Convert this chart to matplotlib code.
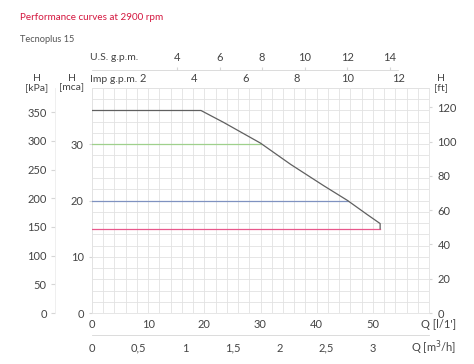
import matplotlib
matplotlib.use("Agg")
import matplotlib.pyplot as plt
import matplotlib.transforms as mtransforms
import numpy as np

plt.rcParams['font.family'] = ['Lato', 'DejaVu Sans']

# pump curve, Q in l/min, H in m
curve_q = [0, 19.4, 23.4, 30.0, 35.4, 41.3, 45.5, 49.0, 51.3, 51.3]
curve_h = [36.0, 36.0, 33.9, 30.2, 26.4, 22.6, 20.0, 17.5, 15.9, 15.0]

# horizontal setpoint lines: head, end flow, colour
level_h = [30, 20, 15]
level_q = [30.0, 45.5, 51.3]
level_c = ['#9fd08c', '#7f92c0', '#e8588c']

lpm_ticks = [0, 10, 20, 30, 40, 50]
m3h_ticks = [0, 0.5, 1, 1.5, 2, 2.5, 3]
m3h_labels = ['0', '0,5', '1', '1,5', '2', '2,5', '3']
usgpm_ticks = [4, 6, 8, 10, 12, 14]
impgpm_ticks = [2, 4, 6, 8, 10, 12]
mca_ticks = [0, 10, 20, 30]
kpa_ticks = [0, 50, 100, 150, 200, 250, 300, 350]
ft_ticks = [0, 20, 40, 60, 80, 100, 120]

W, H = 474, 364
TXT = '#444444'
LINE = '#d6d6d6'
FS = 8

fig = plt.figure(figsize=(W / 100, H / 100), dpi=100)

def fx(px):
    return px / W

def fy(py):
    return 1 - py / H

left, right, top, bottom = 92, 429, 88, 313
ax = fig.add_axes([fx(left), fy(bottom), fx(right - left), (bottom - top) / H])
ax.set_xlim(0, 60)
ax.set_ylim(0, 40)

ax.set_xticks(np.arange(0, 61, 2), minor=True)
ax.set_yticks(np.arange(0, 41, 2), minor=True)
ax.set_xticks(lpm_ticks)
ax.set_yticks(mca_ticks)
ax.grid(which='both', color='#e2e2e2', linewidth=0.6)
ax.set_axisbelow(True)
ax.tick_params(which='minor', length=0)
ax.tick_params(axis='x', which='major', length=0, pad=4, labelsize=FS, labelcolor=TXT)
ax.tick_params(axis='y', which='major', length=2, color=LINE, pad=4, labelsize=FS, labelcolor=TXT)
for s in ax.spines.values():
    s.set_color('#e2e2e2')
    s.set_linewidth(0.6)

ax.plot(curve_q, curve_h, color='#606060', linewidth=0.9, zorder=4)
for h, q, c in zip(level_h, level_q, level_c):
    ax.plot([0, q], [h, h], color=c, linewidth=0.9, zorder=3)

# kPa axis on the far left
kpa = ax.secondary_yaxis((55 - left) / (right - left),
                         functions=(lambda m: m * 9.80665, lambda k: k / 9.80665))
kpa.set_yticks(kpa_ticks)
kpa.tick_params(length=3, color=LINE, pad=3, labelsize=FS, labelcolor=TXT)
kpa.spines['left'].set_color('#ececec')
kpa.spines['left'].set_linewidth(0.6)

# ft axis on the right
ft = ax.secondary_yaxis('right', functions=(lambda m: m * 3.28084, lambda f: f / 3.28084))
ft.set_yticks(ft_ticks)
ft.tick_params(length=2, color=LINE, pad=4, labelsize=FS, labelcolor=TXT)
ft.spines['right'].set_visible(False)

# m3/h axis below (labels placed on a common baseline)
m3h_loc = -(335 - bottom) / (bottom - top)
m3h = ax.secondary_xaxis(m3h_loc, functions=(lambda q: q * 0.06, lambda v: v / 0.06))
m3h.set_xticks([])
m3h.spines['bottom'].set_color(LINE)
m3h.spines['bottom'].set_linewidth(0.6)
trans = mtransforms.blended_transform_factory(ax.transData, ax.transAxes)
for v, lab in zip(m3h_ticks, m3h_labels):
    ax.text(v / 0.06, -(351.5 - bottom) / (bottom - top), lab, transform=trans,
            ha='center', va='baseline', fontsize=FS, color=TXT, clip_on=False)

# Imp g.p.m. on the plot top
imp = ax.secondary_xaxis('top', functions=(lambda q: q / 4.54609, lambda g: g * 4.54609))
imp.set_xticks(impgpm_ticks)
imp.tick_params(length=0, pad=3, labelsize=FS, labelcolor=TXT)
imp.spines['top'].set_visible(False)

# U.S. g.p.m. above
us = ax.secondary_xaxis(1 + (top - 70) / (bottom - top),
                        functions=(lambda q: q / 3.78541, lambda g: g * 3.78541))
us.set_xticks(usgpm_ticks)
us.tick_params(length=2, color=LINE, pad=3, labelsize=FS, labelcolor=TXT)
us.spines['top'].set_color(LINE)
us.spines['top'].set_linewidth(0.6)
us.spines['top'].set_bounds(0, 14.4)

# captions
fig.text(fx(20), fy(17), 'Performance curves at 2900 rpm', color='#d4173f',
         fontsize=7.1, va='center', ha='left')
fig.text(fx(20), fy(40), 'Tecnoplus 15', color='#555555', fontsize=6.7,
         va='center', ha='left')
fig.text(fx(90), fy(58), 'U.S. g.p.m.', color=TXT, fontsize=7.5, va='center', ha='left')
fig.text(fx(90), fy(79), 'Imp g.p.m.', color=TXT, fontsize=7.5, va='center', ha='left')
fig.text(fx(37), fy(83), 'H\n[kPa]', color=TXT, fontsize=7.5, va='center', ha='center',
         linespacing=0.95)
fig.text(fx(72), fy(83), 'H\n[mca]', color=TXT, fontsize=7.5, va='center', ha='center',
         linespacing=0.95)
fig.text(fx(441), fy(83), 'H\n[ft]', color=TXT, fontsize=7.5, va='center', ha='center',
         linespacing=0.95)
fig.text(fx(456), fy(324), "Q [l/1']", color=TXT, fontsize=FS, va='center', ha='right')
fig.text(fx(456), fy(348), 'Q [m$^3$/h]', color=TXT, fontsize=FS, va='center', ha='right')

fig.savefig('out.png', dpi=100)
